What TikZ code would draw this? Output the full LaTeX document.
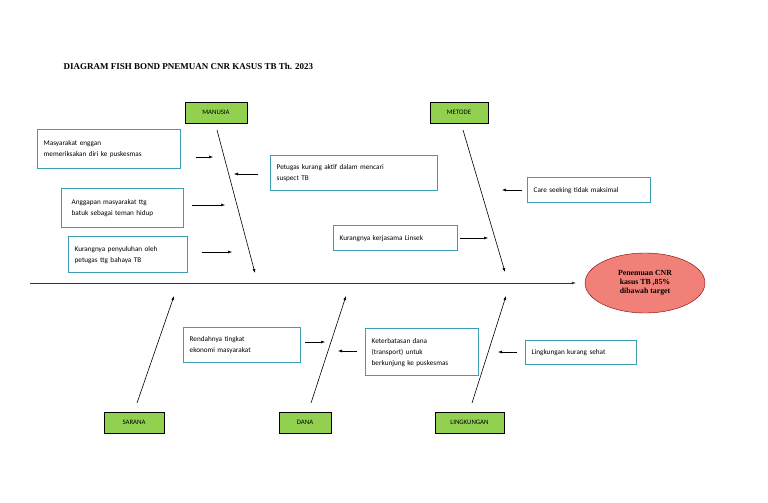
\documentclass[tikz,border=0pt]{standalone}
\usepackage{fontspec}
\setmainfont{Carlito}
\newfontfamily\serifb{Liberation Serif}
\usetikzlibrary{arrows.meta,shapes.geometric}
\definecolor{teal}{HTML}{3C9DB5}
\definecolor{grn}{HTML}{92D050}
\definecolor{salm}{HTML}{F08078}
\begin{document}
\begin{tikzpicture}[x=1pt,y=-1pt,
 cat/.style={draw=black,fill=grn,minimum width=#1,minimum height=21pt,inner sep=0pt,font=\fontsize{6.8}{7}\selectfont},
 box/.style={draw=teal,line width=1.4pt,anchor=north west,align=left,inner xsep=6pt,font=\fontsize{7.2}{11}\selectfont},
 arr/.style={-{Latex[length=4pt,width=3pt]},line width=0.5pt},
 spine/.style={-{Latex[length=4pt,width=3pt]},line width=0.6pt}]
\useasboundingbox (0,0) rectangle (768,503);
\node[anchor=west,font=\serifb\bfseries\fontsize{9}{10}\selectfont] (t) at (60,66) {DIAGRAM FISH BOND PNEMUAN CNR KASUS TB Th. 2023};
\node[cat=62pt] (man) at (216,112.5) {MANUSIA};
\node[cat=58pt] (met) at (459,112.5) {METODE};
\node[cat=60pt] (sar) at (134,422.5) {SARANA};
\node[cat=52pt] (dan) at (305,422.5) {DANA};
\node[cat=69pt] (lin) at (469.5,422.5) {LINGKUNGAN};
\node[ellipse,draw=red!50!black,fill=salm,minimum width=120pt,minimum height=60pt,align=center,inner sep=0pt,font=\serifb\bfseries\fontsize{7.8}{9}\selectfont] (eff) at (645,283) {Penemuan CNR\\kasus TB ,85\%\\dibawah target};
\coordinate (s0) at (30,283);
\draw[spine,draw=black!80] (s0) -- ([xshift=-9pt]eff.west);
\coordinate (m1) at (217,130); \coordinate (m2) at (255,273);
\coordinate (t1) at (463,130); \coordinate (t2) at (505,272);
\coordinate (a1) at (137,403); \coordinate (a2) at (174,296);
\coordinate (d1) at (311,403); \coordinate (d2) at (346,296);
\coordinate (l1) at (472,403); \coordinate (l2) at (506,296);
\foreach \p/\q in {m1/m2,t1/t2,a1/a2,d1/d2,l1/l2} \draw[spine] (\p) -- (\q);
\node[box,text width=131pt,minimum height=39pt] (b1) at (37,129) {Masyarakat enggan\\memeriksakan diri ke puskesmas};
\node[box,text width=102pt,minimum height=39pt,inner xsep=10pt] (b2) at (61,188) {Anggapan masyarakat ttg\\batuk sebagai teman hidup};
\node[box,text width=107pt,minimum height=36pt] (b3) at (68,236) {Kurangnya penyuluhan oleh\\petugas ttg bahaya TB};
\node[box,text width=155pt,minimum height=35pt] (b4) at (270,155) {Petugas kurang aktif dalam mencari\\suspect TB};
\node[box,text width=112pt,minimum height=25pt] (b5) at (333,225) {Kurangnya kerjasama Linsek};
\node[box,text width=111pt,minimum height=25pt] (b6) at (527,177) {Care seeking tidak maksimal};
\node[box,text width=105pt,minimum height=35pt] (b7) at (183,327) {Rendahnya tingkat\\ekonomi masyarakat};
\node[box,text width=101pt,minimum height=47pt] (b8) at (365,328) {Keterbatasan dana\\(transport) untuk\\berkunjung ke puskesmas};
\node[box,text width=99pt,minimum height=24pt] (b9) at (525,340) {Lingkungan kurang sehat};
\coordinate (p1) at (196,157); \coordinate (q1) at (213,157);
\coordinate (p2) at (192,205); \coordinate (q2) at (225,205);
\coordinate (p3) at (202,252); \coordinate (q3) at (232,252);
\coordinate (p4) at (258,174); \coordinate (q4) at (234,174);
\coordinate (p5) at (460,238); \coordinate (q5) at (488,238);
\coordinate (p6) at (522,190); \coordinate (q6) at (502,190);
\coordinate (p7) at (305,342); \coordinate (q7) at (325,342);
\coordinate (p8) at (357,351); \coordinate (q8) at (338,351);
\coordinate (p9) at (517,352); \coordinate (q9) at (498,352);
\foreach \i in {1,...,9} \draw[arr] (p\i) -- (q\i);
\end{tikzpicture}
\end{document}
